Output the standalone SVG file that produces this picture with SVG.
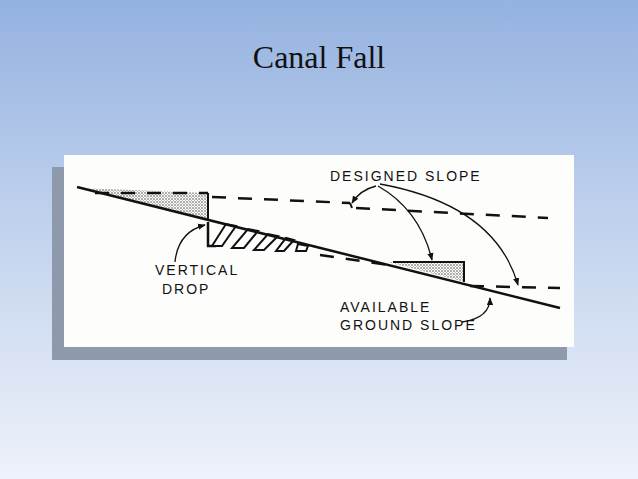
<svg xmlns="http://www.w3.org/2000/svg" width="638" height="479" viewBox="0 0 638 479">
<defs>
<linearGradient id="bg" x1="0" y1="0" x2="0" y2="1"><stop offset="0" stop-color="#94b2e0"/><stop offset="0.5" stop-color="#c4d4ee"/><stop offset="1" stop-color="#eef2fa"/></linearGradient>
<pattern id="dots" width="3" height="3" patternUnits="userSpaceOnUse"><circle cx="1" cy="1" r="0.7" fill="#222"/><circle cx="2.5" cy="2.3" r="0.45" fill="#555"/></pattern>
<marker id="ah" viewBox="0 0 10 10" refX="9" refY="5" markerWidth="6" markerHeight="6" orient="auto"><path d="M0,1 L10,5 L0,9 z" fill="#111"/></marker>
<style>
.t{font-family:"Liberation Sans",Arial,sans-serif;font-size:14px;fill:#111;letter-spacing:2px}
.ln{stroke:#111;fill:none}
.dash{stroke:#111;stroke-width:2.5;stroke-dasharray:14 12;fill:none}
.arr{stroke:#111;stroke-width:1.3;fill:none;marker-end:url(#ah)}
.blk{stroke:#111;stroke-width:2;fill:#fff}
</style>
</defs>
<rect width="638" height="479" fill="url(#bg)"/>
<text x="319" y="68" text-anchor="middle" font-family="Liberation Serif,serif" font-size="32" fill="#111">Canal Fall</text>
<rect x="52" y="167" width="515" height="193" fill="#8e9aab"/>
<rect x="64" y="155" width="510" height="192" fill="#fdfdfb"/>
<g id="pools">
<polygon points="80,188 208,193 208,221" fill="url(#dots)"/>
<polygon points="388,262 465,262 465,282" fill="url(#dots)"/>
<path class="ln" stroke-width="2" d="M393,262 H464 V282"/>
</g>
<g id="hatch">
<path class="ln" stroke-width="2.5" d="M208,222 V246 H216"/>
<polygon class="blk" points="212,246 222,246 236,226 226,224"/>
<polygon class="blk" points="232,248 244,248 258,231 248,229"/>
<polygon class="blk" points="254,250 264,250 278,236 268,234"/>
<polygon class="blk" points="276,251 284,251 294,240 286,238"/>
<polygon class="blk" points="296,251 306,251 308,246 298,244"/>
</g>
<g id="connectors">
<line class="ln" stroke-width="2.5" x1="77" y1="187" x2="560" y2="308"/>
<path class="dash" d="M95,193 H208"/>
<path class="ln" stroke-width="2" d="M208,193 V221"/>
<path class="dash" d="M212,197 L350,203"/>
<path class="ln" stroke-width="2" d="M350,203 L352,208"/>
<path class="dash" d="M356,208 L548,218"/>
<path class="dash" d="M320,255 L388,265"/>
<path class="dash" d="M470,286 L560,288"/>
<path class="arr" d="M376,186 Q360,190 352,203"/>
<path class="arr" d="M378,186 Q420,210 432,260"/>
<path class="arr" d="M380,184 Q495,205 518,285"/>
<path class="arr" d="M175,262 Q178,232 205,225"/>
<path class="arr" d="M462,322 Q490,318 490,298"/>
</g>
<g id="labels">
<text class="t" x="330" y="181">DESIGNED SLOPE</text>
<text class="t" x="155" y="275">VERTICAL</text>
<text class="t" x="162" y="294">DROP</text>
<text class="t" x="340" y="312">AVAILABLE</text>
<text class="t" x="340" y="330">GROUND SLOPE</text>
</g>
</svg>
